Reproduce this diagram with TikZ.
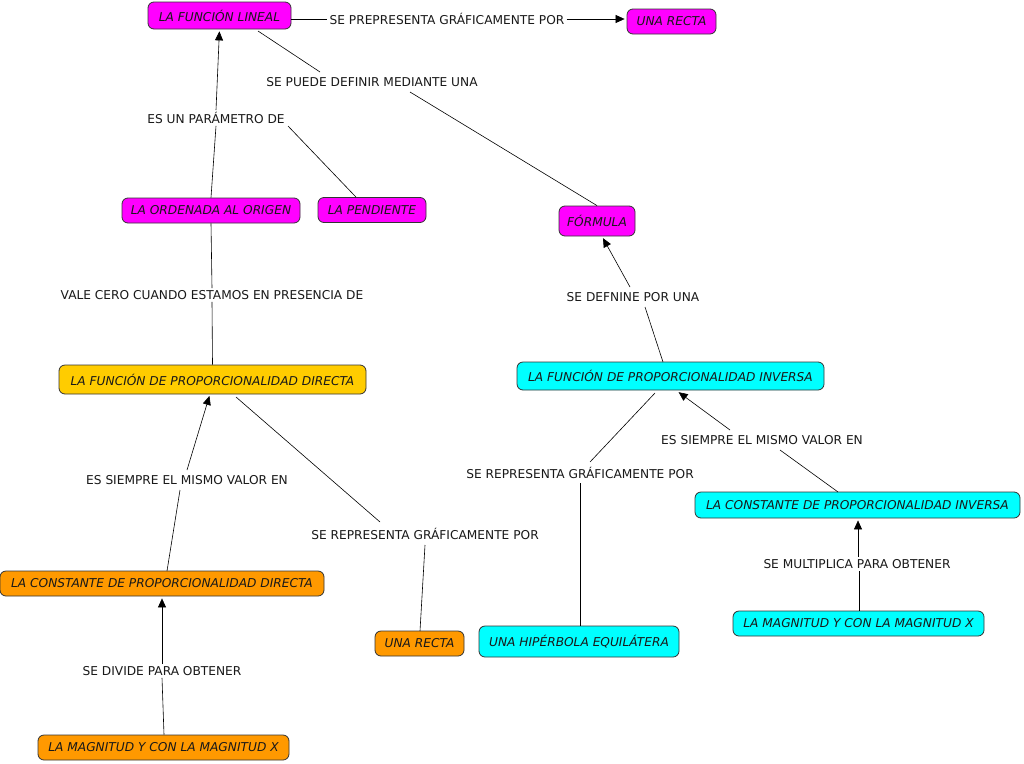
\documentclass[tikz,border=0pt]{standalone}
\usepackage{fontspec}
\setmainfont{DejaVu Sans}
\usetikzlibrary{arrows.meta}
\definecolor{cmag}{HTML}{FF00FF}
\definecolor{cgold}{HTML}{FFCC00}
\definecolor{corange}{HTML}{FF9900}
\definecolor{ccyan}{HTML}{00FFFF}
\tikzset{
  concept/.style={draw=black!80, line width=0.8pt, rounded corners=6pt, inner sep=0pt,
    minimum height=25pt, font=\fontsize{12.2}{14}\selectfont\itshape, text=black!90},
  lbl/.style={inner sep=2pt, font=\fontsize{12.2}{14}\selectfont, text=black!90},
  conn/.style={draw=black, line width=0.6pt},
  arr/.style={conn, -{Triangle[length=9pt,width=8pt]}, shorten >=2pt}
}
\begin{document}
\begin{tikzpicture}[x=1pt,y=-1pt]
\useasboundingbox (0,0) rectangle (1024,763);
\fill[white] (0,0) rectangle (1024,763);
% concepts
\node[concept, fill=cmag, minimum width=143pt, minimum height=27pt] (lineal) at (219.5,15.5) {LA FUNCIÓN LINEAL};
\node[concept, fill=cmag, minimum width=89pt] (recta1) at (671.5,21.5) {UNA RECTA};
\node[concept, fill=cmag, minimum width=178pt] (ordenada) at (211,210.5) {LA ORDENADA AL ORIGEN};
\node[concept, fill=cmag, minimum width=108pt] (pendiente) at (372,210) {LA PENDIENTE};
\node[concept, fill=cmag, minimum width=76pt, minimum height=30pt] (formula) at (597,221) {FÓRMULA};
\node[concept, fill=cgold, minimum width=307pt, minimum height=29pt] (directa) at (212.5,379.5) {LA FUNCIÓN DE PROPORCIONALIDAD DIRECTA};
\node[concept, fill=ccyan, minimum width=307pt, minimum height=28pt] (inversa) at (670.5,376) {LA FUNCIÓN DE PROPORCIONALIDAD INVERSA};
\node[concept, fill=corange, minimum width=324pt] (constdir) at (162,583.5) {LA CONSTANTE DE PROPORCIONALIDAD DIRECTA};
\node[concept, fill=corange, minimum width=89pt] (recta2) at (419.5,643.5) {UNA RECTA};
\node[concept, fill=ccyan, minimum width=200pt, minimum height=31pt] (hiper) at (579,641.5) {UNA HIPÉRBOLA EQUILÁTERA};
\node[concept, fill=ccyan, minimum width=325pt, minimum height=26pt] (constinv) at (857.5,505) {LA CONSTANTE DE PROPORCIONALIDAD INVERSA};
\node[concept, fill=corange, minimum width=251pt] (magy1) at (163.5,747.5) {LA MAGNITUD Y CON LA MAGNITUD X};
\node[concept, fill=ccyan, minimum width=251pt] (magy2) at (858.5,623.5) {LA MAGNITUD Y CON LA MAGNITUD X};
% labels
\node[lbl] (l1) at (447,19) {SE PREPRESENTA GRÁFICAMENTE POR};
\node[lbl] (l2) at (372,82) {SE PUEDE DEFINIR MEDIANTE UNA};
\node[lbl] (l3) at (216,118) {ES UN PARÁMETRO DE};
\node[lbl] (l4) at (212,295) {VALE CERO CUANDO ESTAMOS EN PRESENCIA DE};
\node[lbl] (l5) at (633,297) {SE DEFNINE POR UNA};
\node[lbl] (l6) at (187,480) {ES SIEMPRE EL MISMO VALOR EN};
\node[lbl] (l7) at (425,534) {SE REPRESENTA GRÁFICAMENTE POR};
\node[lbl] (l8) at (580,473) {SE REPRESENTA GRÁFICAMENTE POR};
\node[lbl] (l9) at (762,440) {ES SIEMPRE EL MISMO VALOR EN};
\node[lbl] (l10) at (857,564) {SE MULTIPLICA PARA OBTENER};
\node[lbl] (l11) at (162,671) {SE DIVIDE PARA OBTENER};
% connectors
\draw[conn] (lineal.east |- 0,19) -- (l1.west);
\draw[arr] (l1.east) -- (recta1.west |- 0,19);
\draw[conn] (258,31) -- (320,72);
\draw[conn] (410,92) -- (formula.north);
\draw[conn] (ordenada.north) -- (l3.south);
\draw[arr] (l3.north) -- (lineal.south);
\draw[conn] (pendiente.north -| 356,0) -- (288,126);
\draw[conn] (ordenada.south) -- (l4.north);
\draw[conn] (l4.south) -- (directa.north);
\draw[conn] (663,362) -- (645,307);
\draw[arr] (630,287) -- (formula.south -| 602,0);
\draw[conn] (167,571) -- (180,490);
\draw[arr] (187,470) -- (210,394);
\draw[conn] (236,397) -- (380,522);
\draw[conn] (425,545) -- (420,631);
\draw[conn] (655,393) -- (590,462);
\draw[conn] (580,483) -- (580,626);
\draw[conn] (838,492) -- (780,450);
\draw[arr] (730,430) -- (677,391);
\draw[conn] (magy2.north -| 859,0) -- (l10.south -| 859,0);
\draw[arr] (l10.north -| 858,0) -- (constinv.south -| 858,0);
\draw[conn] (magy1.north -| 164,0) -- (l11.south);
\draw[arr] (l11.north) -- (constdir.south);
\end{tikzpicture}
\end{document}
